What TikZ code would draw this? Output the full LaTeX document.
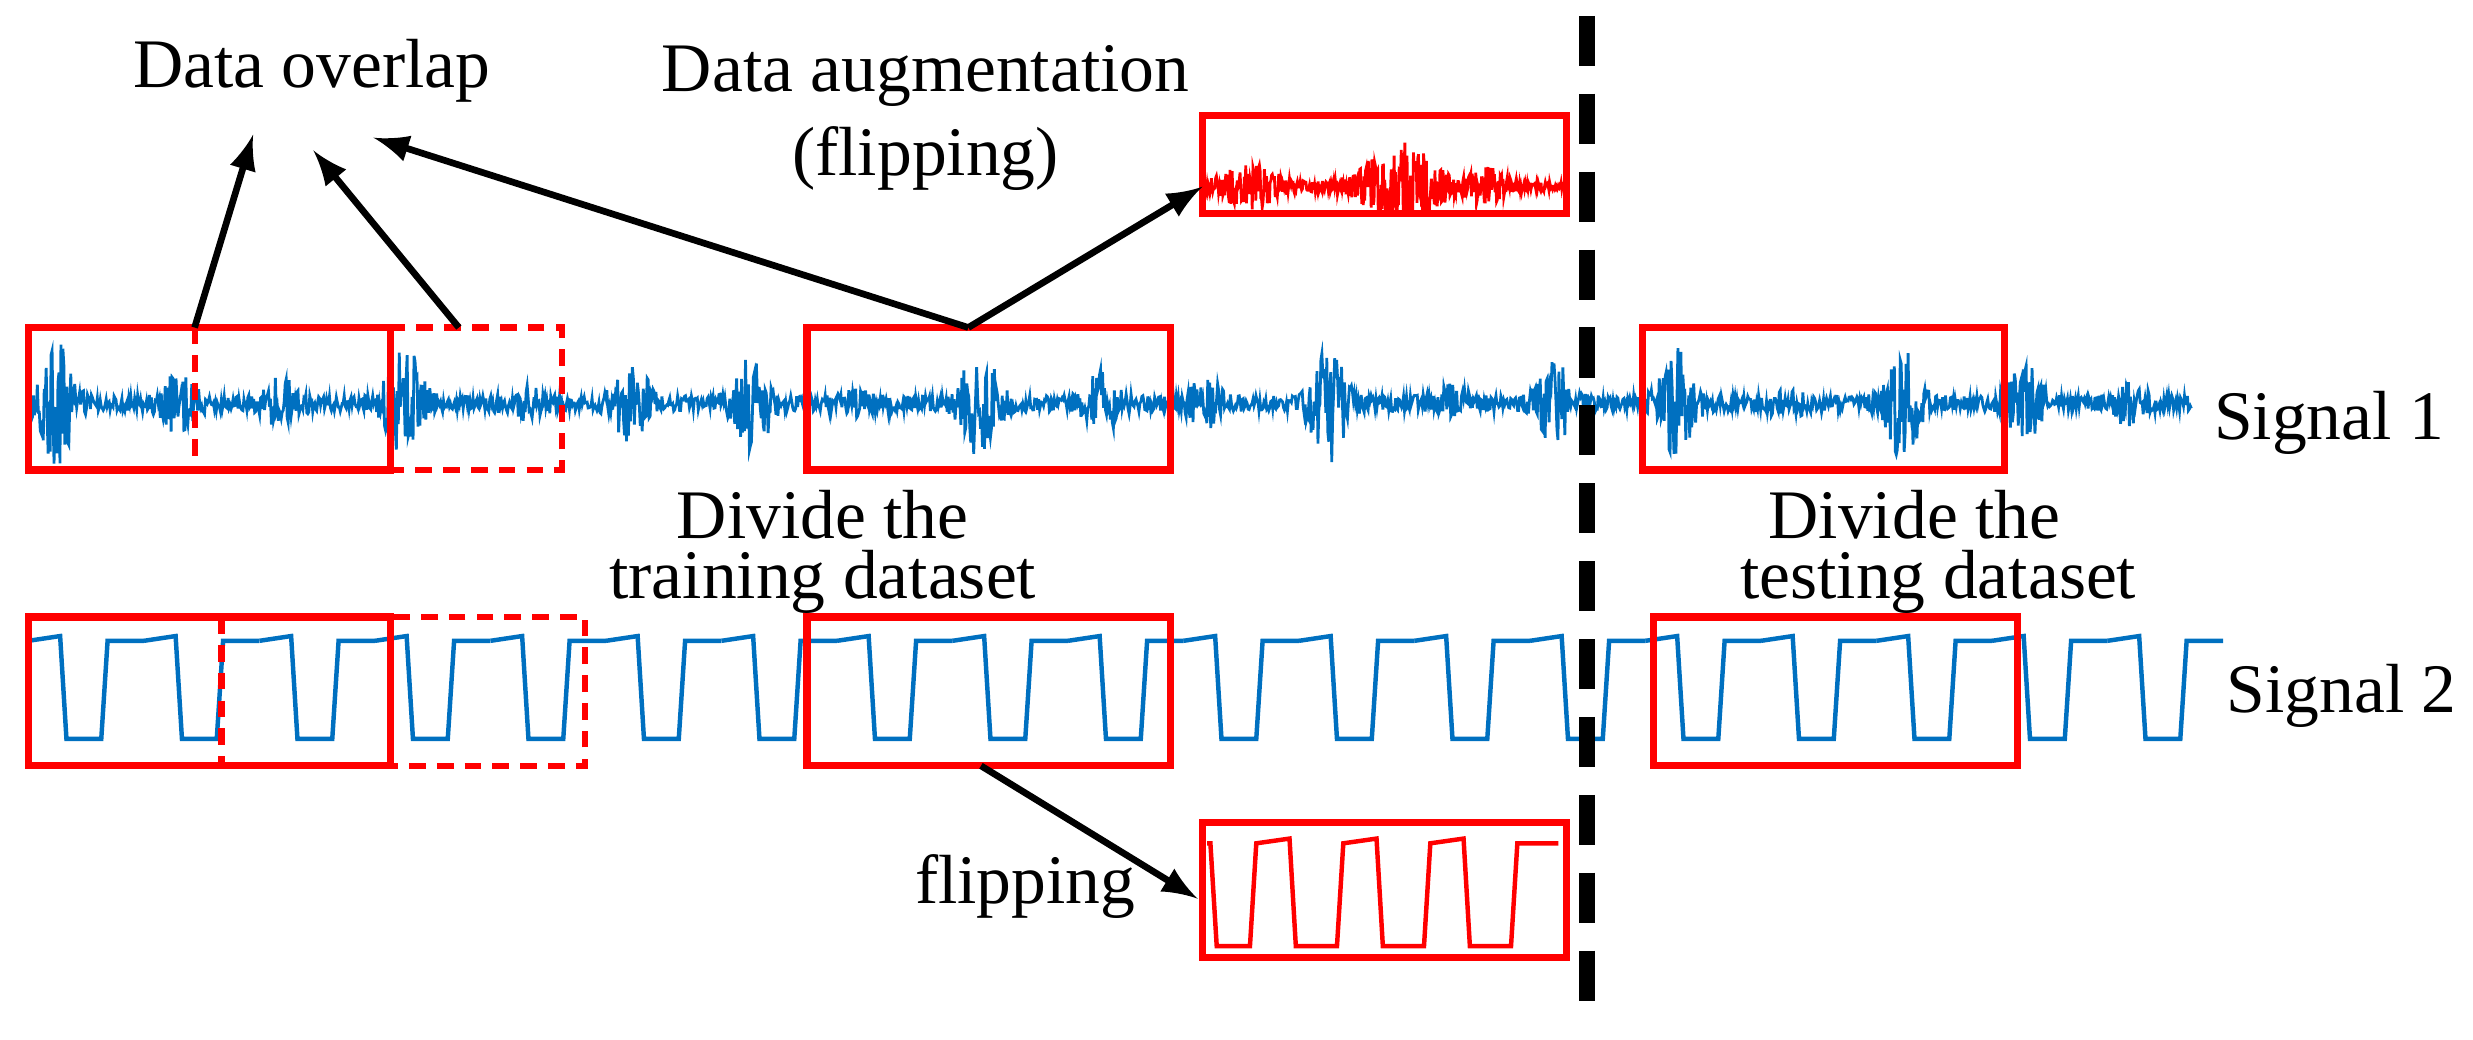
\documentclass[tikz,border=0pt]{standalone}
\usepackage{fontspec}
\setmainfont{Liberation Serif}
\begin{document}
\begin{tikzpicture}[x=0.01cm,y=-0.01cm,
  rbox/.style={draw=red,line width=1.3pt},
  rdash/.style={draw=red,line width=1.1pt,dash pattern=on 3pt off 2pt},
  arr/.style={-latex,line width=1.2pt},
  lbl/.style={font=\fontsize{12.5}{14}\selectfont,inner sep=0pt},
  sig/.style={color={rgb,255:red,0;green,112;blue,192}}]
\useasboundingbox (0,0) rectangle (1563,657);
\pgfmathsetseed{7}
% signal 1
\draw[sig,line width=0.5pt] plot[domain=18:1385,samples=2200] (\x,{255+(5+36*exp(-((mod(\x*1.0,73)-36)/12)^2)*(0.55+0.45*sin(\x*3.1)))*rand});
% signal 2
\foreach \k in {0,...,18}{
  \pgfmathsetmacro\a{18+73*\k}
  \draw[sig,line width=0.8pt] (\a,405) -- (\a+20,402) -- (\a+24,467) -- (\a+46,467) -- (\a+50,405) -- (\a+73,405);
}
% augmentation box
\coordinate (augW) at (760,118);
\draw[rbox] (760,73) rectangle (990,135);
\begin{scope}
\clip (762,75) rectangle (988,133);
\draw[red,line width=0.5pt] plot[domain=762:988,samples=500] (\x,{118+(3+26*exp(-((\x-885)/25)^2)+12*exp(-((\x-790)/20)^2)+10*exp(-((\x-940)/12)^2))*rand});
\end{scope}
% flipped box
\draw[rbox] (760,520) rectangle (990,605);
\draw[red,line width=0.8pt] (763,533) -- (765,533) -- (769,598) -- (790,598) -- (794,533) -- (815,530) -- (819,598) -- (845,598) -- (849,533) -- (870,530) -- (874,598) -- (900,598) -- (904,533) -- (925,530) -- (929,598) -- (955,598) -- (959,533) -- (985,533);
% signal 1 boxes
\draw[rbox] (18,207) rectangle (247,297);
\draw[rdash] (123,207) -- (123,297);
\draw[rdash] (247,207) rectangle (355,297);
\draw[rbox] (510,207) rectangle (740,297);
\draw[rbox] (1038,207) rectangle (1267,297);
% signal 2 boxes
\draw[rbox] (18,390) rectangle (247,484);
\draw[rdash] (140,390) -- (140,484);
\draw[rdash] (247,390) rectangle (370,484);
\draw[rbox] (510,390) rectangle (740,484);
\draw[rbox] (1045,390) rectangle (1275,484);
% divider
\draw[line width=3pt,dash pattern=on 9pt off 5pt] (1003,10) -- (1003,640);
% texts
\node[lbl] (ov) at (197,45) {Data overlap};
\node[lbl] (da) at (585,48) {Data augmentation};
\node[lbl] at (585,100) {(flipping)};
\node[lbl] at (1472,267) {Signal 1};
\node[lbl] at (1480,440) {Signal 2};
\node[lbl] at (520,325) {Divide the};
\node[lbl] at (520,368) {training dataset};
\node[lbl] at (1210,325) {Divide the};
\node[lbl] at (1225,368) {testing dataset};
\node[lbl] (fl) at (648,560) {flipping};
% arrows
\coordinate (s1) at (123,207); \coordinate (s2) at (290,207);
\coordinate (s3) at (612,207); \coordinate (s4) at (620,484);
\coordinate (o1) at (160,85); \coordinate (o2) at (198,95); \coordinate (o3) at (236,87);
\coordinate (fW) at (757,568);
\draw[arr] (s1) -- (o1);
\draw[arr] (s2) -- (o2);
\draw[arr] (s3) -- (o3);
\draw[arr] (s3) -- (augW);
\draw[arr] (s4) -- (fW);
\end{tikzpicture}
\end{document}
